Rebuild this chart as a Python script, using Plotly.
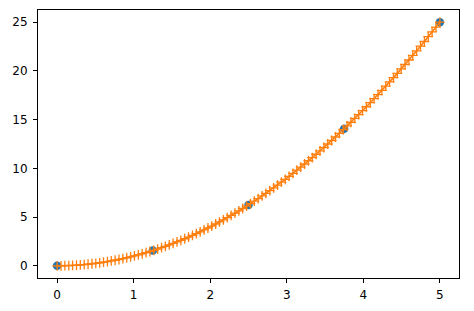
import plotly.graph_objects as go

# Coarse samples (blue circles)
x_coarse = [0.0, 1.25, 2.5, 3.75, 5.0]
y_coarse = [0.0, 1.5625, 6.25, 14.0625, 25.0]

# Fine samples (orange line with + markers)
x_fine = [0.000, 0.051, 0.101, 0.152, 0.202, 0.253, 0.303, 0.354, 0.404, 0.455,
          0.505, 0.556, 0.606, 0.657, 0.707, 0.758, 0.808, 0.859, 0.909, 0.960,
          1.010, 1.061, 1.111, 1.162, 1.212, 1.263, 1.313, 1.364, 1.414, 1.465,
          1.515, 1.566, 1.616, 1.667, 1.717, 1.768, 1.818, 1.869, 1.919, 1.970,
          2.020, 2.071, 2.121, 2.172, 2.222, 2.273, 2.323, 2.374, 2.424, 2.475,
          2.525, 2.576, 2.626, 2.677, 2.727, 2.778, 2.828, 2.879, 2.929, 2.980,
          3.030, 3.081, 3.131, 3.182, 3.232, 3.283, 3.333, 3.384, 3.434, 3.485,
          3.535, 3.586, 3.636, 3.687, 3.737, 3.788, 3.838, 3.889, 3.939, 3.990,
          4.040, 4.091, 4.141, 4.192, 4.242, 4.293, 4.343, 4.394, 4.444, 4.495,
          4.545, 4.596, 4.646, 4.697, 4.747, 4.798, 4.848, 4.899, 4.949, 5.000]
y_fine = [0.00, 0.00, 0.01, 0.02, 0.04, 0.06, 0.09, 0.12, 0.16, 0.21,
          0.26, 0.31, 0.37, 0.43, 0.50, 0.57, 0.65, 0.74, 0.83, 0.92,
          1.02, 1.12, 1.23, 1.35, 1.47, 1.59, 1.72, 1.86, 2.00, 2.15,
          2.30, 2.45, 2.61, 2.78, 2.95, 3.12, 3.31, 3.49, 3.68, 3.88,
          4.08, 4.29, 4.50, 4.72, 4.94, 5.17, 5.40, 5.63, 5.88, 6.12,
          6.38, 6.63, 6.90, 7.17, 7.44, 7.72, 8.00, 8.29, 8.58, 8.88,
          9.18, 9.49, 9.81, 10.12, 10.45, 10.78, 11.11, 11.45, 11.79, 12.14,
          12.50, 12.86, 13.22, 13.59, 13.97, 14.35, 14.73, 15.12, 15.52, 15.92,
          16.32, 16.74, 17.15, 17.57, 18.00, 18.43, 18.87, 19.31, 19.75, 20.20,
          20.66, 21.12, 21.59, 22.06, 22.54, 23.02, 23.51, 24.00, 24.50, 25.00]

x_ticks = [0, 1, 2, 3, 4, 5]
y_ticks = [0, 5, 10, 15, 20, 25]

fig = go.Figure()
fig.add_trace(go.Scatter(
    x=x_coarse, y=y_coarse, mode="markers",
    marker=dict(color="#1f77b4", size=8.5, line=dict(width=0)),
    showlegend=False, hoverinfo="skip"))
fig.add_trace(go.Scatter(
    x=x_fine, y=y_fine, mode="lines+markers",
    line=dict(color="#ff7f0e", width=1.6),
    marker=dict(symbol="cross-thin", size=7, color="#ff7f0e",
                line=dict(color="#ff7f0e", width=1.3)),
    showlegend=False, hoverinfo="skip"))

axis_common = dict(
    showline=True, linecolor="black", linewidth=1, mirror=True,
    ticks="outside", ticklen=4, tickwidth=1, tickcolor="black",
    showgrid=False, zeroline=False,
    tickfont=dict(family="DejaVu Sans", size=12, color="black"),
)

fig.update_layout(
    width=474, height=311,
    margin=dict(l=38, r=15, t=9, b=28),
    paper_bgcolor="white", plot_bgcolor="white",
    xaxis=dict(range=[-0.25, 5.25], tickvals=x_ticks, ticklabelstandoff=2, **axis_common),
    yaxis=dict(range=[-1.25, 26.25], tickvals=y_ticks, ticklabelstandoff=3, **axis_common),
)

fig.write_html("out.html")
